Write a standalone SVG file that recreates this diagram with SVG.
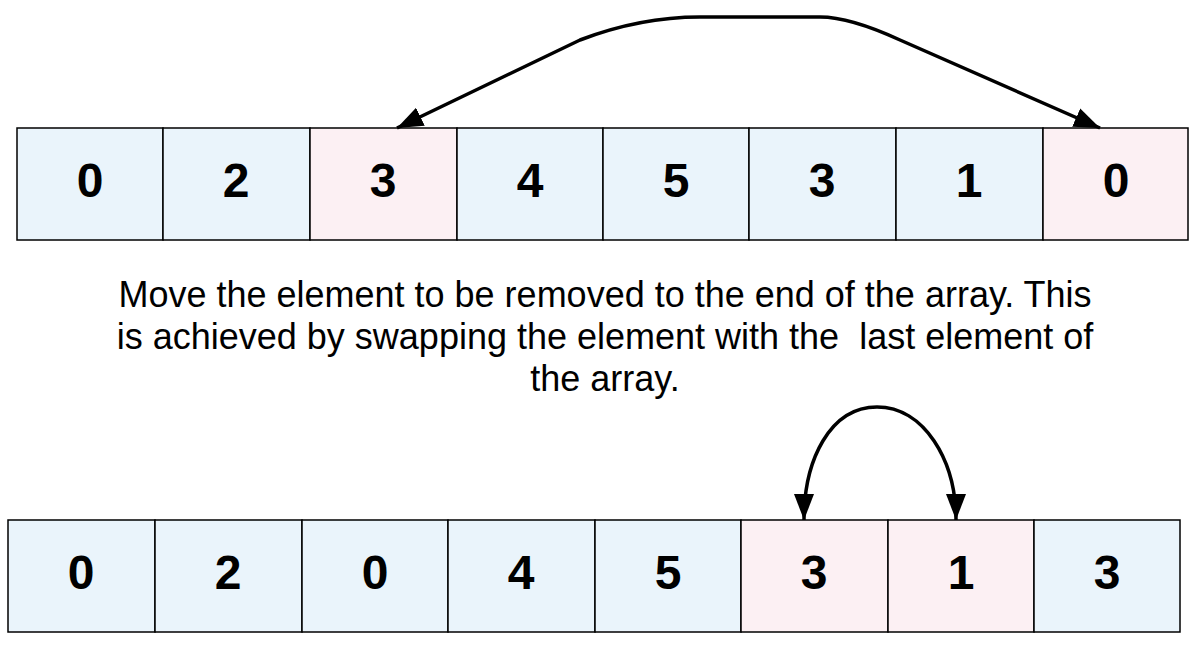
<svg xmlns="http://www.w3.org/2000/svg" width="1200" height="647" viewBox="0 0 1200 647">
<style>
.b{fill:#eaf4fb;stroke:#000;stroke-width:1.5}
.p{fill:#fcf0f3;stroke:#000;stroke-width:1.5}
.n{font-family:"Liberation Sans",Arial,sans-serif;font-weight:bold;font-size:48px;text-anchor:middle}
.t{font-family:"Liberation Sans",Arial,sans-serif;font-size:36px;text-anchor:middle;white-space:pre}
.c{fill:none;stroke:#000;stroke-width:3.5}
</style>
<defs>
<marker id="h" viewBox="0 0 10 10" refX="10" refY="5" markerWidth="26" markerHeight="20" orient="auto-start-reverse" markerUnits="userSpaceOnUse" preserveAspectRatio="none"><path d="M0,0L10,5L0,10z"/></marker></defs>
<g id="top">
<rect class="b" x="17" y="128" width="146" height="112"/><text class="n" x="90" y="197">0</text>
<rect class="b" x="163" y="128" width="147" height="112"/><text class="n" x="236" y="197">2</text>
<rect class="p" x="310" y="128" width="147" height="112"/><text class="n" x="383" y="197">3</text>
<rect class="b" x="457" y="128" width="146" height="112"/><text class="n" x="530" y="197">4</text>
<rect class="b" x="603" y="128" width="146" height="112"/><text class="n" x="676" y="197">5</text>
<rect class="b" x="749" y="128" width="147" height="112"/><text class="n" x="822" y="197">3</text>
<rect class="b" x="896" y="128" width="147" height="112"/><text class="n" x="969" y="197">1</text>
<rect class="p" x="1043" y="128" width="145" height="112"/><text class="n" x="1116" y="197">0</text>
</g>
<g id="bottom">
<rect class="b" x="8" y="520" width="147" height="112"/><text class="n" x="81" y="589">0</text>
<rect class="b" x="155" y="520" width="147" height="112"/><text class="n" x="228" y="589">2</text>
<rect class="b" x="302" y="520" width="146" height="112"/><text class="n" x="375" y="589">0</text>
<rect class="b" x="448" y="520" width="147" height="112"/><text class="n" x="521" y="589">4</text>
<rect class="b" x="595" y="520" width="146" height="112"/><text class="n" x="668" y="589">5</text>
<rect class="p" x="741" y="520" width="147" height="112"/><text class="n" x="814" y="589">3</text>
<rect class="p" x="888" y="520" width="146" height="112"/><text class="n" x="961" y="589">1</text>
<rect class="b" x="1034" y="520" width="146" height="112"/><text class="n" x="1107" y="589">3</text>
</g>
<g id="label">
<text class="t" x="605" y="307">Move the element to be removed to the end of the array. This</text>
<text class="t" x="605" y="349">is achieved by swapping the element with the  last element of</text>
<text class="t" x="605" y="391">the array.</text>
</g>
<g id="connectors">
<path class="c" d="M1100,128 L900,40 Q850,17 820,17 L700,17 Q640,17 580,40 L397,128" marker-start="url(#h)" marker-end="url(#h)"/>
<path class="c" d="M804,520 C804,460 830,407 877,407 C924,407 956,460 956,520" marker-start="url(#h)" marker-end="url(#h)"/>
</g>
</svg>
